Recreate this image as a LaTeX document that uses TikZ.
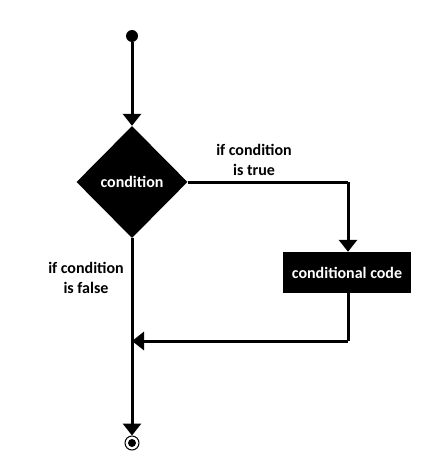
\documentclass[tikz,border=0pt]{standalone}
\usepackage{fontspec}
\setmainfont{Carlito}
\usetikzlibrary{arrows.meta,shapes.geometric}
\begin{document}
\begin{tikzpicture}[x=1pt,y=-1pt,
  flow/.style={line width=3pt,-{Triangle[width=18pt,length=12pt]}},
  plain/.style={line width=3pt},
  lbl/.style={font=\bfseries\fontsize{16}{20}\selectfont,align=center,text=black},
  wlbl/.style={font=\bfseries\fontsize{16}{18}\selectfont,text=white}]
\useasboundingbox (0,0) rectangle (425,457);
\node[circle,fill=black,minimum size=12pt,inner sep=0pt] (start) at (132,36) {};
\node[diamond,fill=black,minimum width=111pt,minimum height=112pt,inner sep=0pt,wlbl] (cond) at (132,182) {condition};
\node[rectangle,fill=black,minimum width=128pt,minimum height=41pt,inner sep=0pt,wlbl] (code) at (347,272.5) {conditional code};
\coordinate (corner1) at (348,182);
\coordinate (corner2) at (348,341);
\coordinate (join) at (132,341);
\node[circle,draw=black,line width=1pt,minimum size=14pt,inner sep=0pt] (endo) at (132,443) {};
\node[circle,fill=black,minimum size=8pt,inner sep=0pt] (endi) at (132,443) {};
\draw[flow] (start) -- (cond.north);
\draw[plain] (cond.east) -- (corner1);
\draw[flow] (corner1) -- (code.north -| corner1);
\draw[plain] (code.south -| corner2) -- (corner2);
\draw[flow] (corner2) -- (join);
\draw[plain] (cond.south) -- (join);
\draw[flow] (join) -- (endo.north);
\node[lbl] (ltrue) at (254,160) {if condition\\is true};
\node[lbl] (lfalse) at (86,278) {if condition\\is false};
\end{tikzpicture}
\end{document}
